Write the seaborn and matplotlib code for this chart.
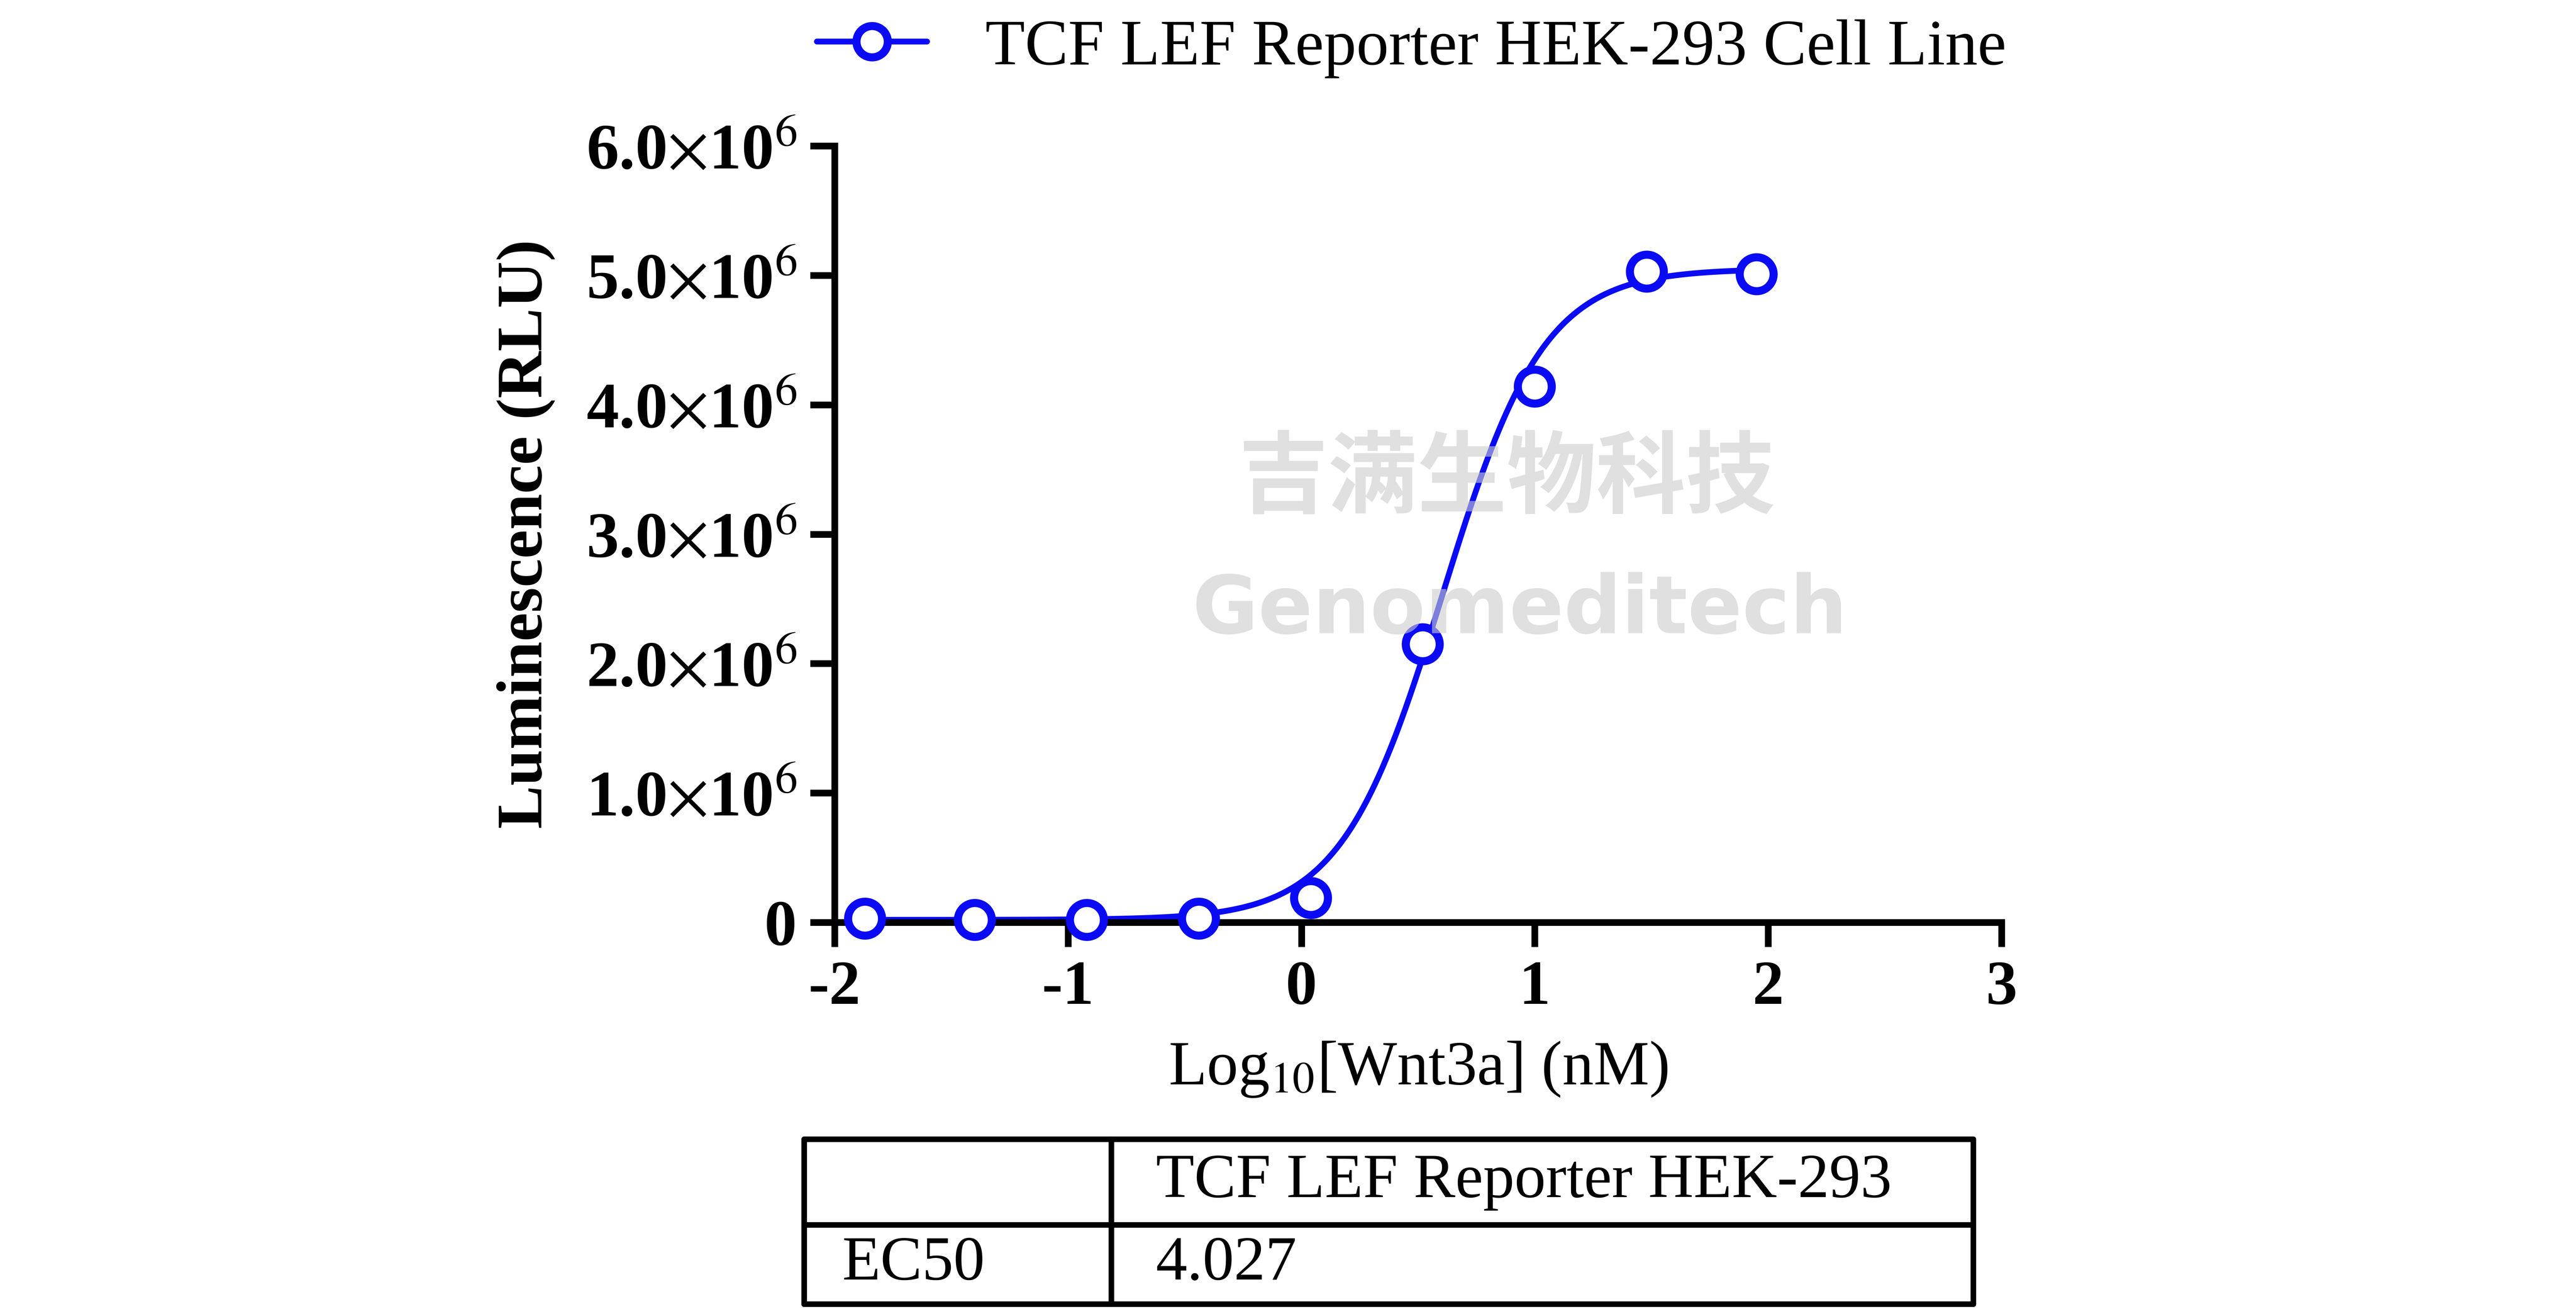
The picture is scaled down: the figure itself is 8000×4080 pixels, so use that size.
import numpy as np
import pandas as pd
import matplotlib
matplotlib.use("Agg")
import matplotlib.pyplot as plt
import seaborn as sns
from matplotlib.lines import Line2D

log_conc = [-1.87, -1.40, -0.92, -0.44, 0.04, 0.52, 1.00, 1.48, 1.95]
rlu = [0.03e6, 0.02e6, 0.02e6, 0.03e6, 0.19e6, 2.15e6, 4.14e6, 5.03e6, 5.01e6]
series_name = "TCF LEF Reporter HEK-293 Cell Line"
fit_bottom, fit_top, fit_logec50, fit_hill = 0.02e6, 5.05e6, 0.605, 2.0
ytick_vals = [0, 1e6, 2e6, 3e6, 4e6, 5e6, 6e6]
ytick_labels = ["0"] + [f"{v}.0$\\times$10$^{{6}}$" for v in range(1, 7)]
xtick_vals = [-2, -1, 0, 1, 2, 3]
table_header = ["", "TCF LEF Reporter HEK-293"]
table_row = ["EC50", "4.027"]

sns.set_theme(style="ticks")
plt.rcParams['font.family'] = ['Liberation Serif', 'DejaVu Serif']
plt.rcParams['mathtext.fontset'] = 'stix'
for k in ['text.color', 'axes.labelcolor', 'xtick.color', 'ytick.color']:
    plt.rcParams[k] = 'black'

fig = plt.figure(figsize=(16, 8.16), dpi=500)
ax = fig.add_axes([0.324, 0.298, 0.453, 0.591])

blue = "#0A0AF5"
xs = np.linspace(min(log_conc), max(log_conc), 400)
ys = fit_bottom + (fit_top - fit_bottom) / (1 + 10 ** ((fit_logec50 - xs) * fit_hill))
df_fit = pd.DataFrame({"x": xs, "y": ys})
df = pd.DataFrame({"x": log_conc, "y": rlu})
sns.lineplot(data=df_fit, x="x", y="y", ax=ax, color=blue, lw=2.6)
sns.scatterplot(data=df, x="x", y="y", ax=ax, s=230, facecolor="white",
                edgecolor=blue, linewidth=3.6, zorder=5, clip_on=False)

ax.set_xlim(-2, 3)
ax.set_ylim(0, 6e6)
ax.set_xticks(xtick_vals)
ax.set_xticklabels([str(v) for v in xtick_vals], fontsize=28, fontweight="bold")
ax.set_yticks(ytick_vals)
ax.set_yticklabels(ytick_labels, fontsize=29, fontweight="bold")
ax.tick_params(width=3, length=11, direction="out", pad=6, colors="black")
for s in ["top", "right"]:
    ax.spines[s].set_visible(False)
for s in ["left", "bottom"]:
    ax.spines[s].set_linewidth(3)
    ax.spines[s].set_color("black")
ax.set_xlabel("Log$_{10}$[Wnt3a] (nM)", fontsize=28, labelpad=10)
ax.set_ylabel("Luminescence (RLU)", fontsize=29, fontweight="bold", labelpad=14)

# watermark
fig.text(0.585, 0.635, "吉满生物科技", fontsize=40, color="#cccccc", alpha=0.6,
         family=["Noto Sans CJK SC"], ha="center", va="center", fontweight="bold")
fig.text(0.59, 0.535, "Genomeditech", fontsize=36, color="#cccccc", alpha=0.6,
         family=["DejaVu Sans"], ha="center", va="center", fontweight="bold")

# legend
h = Line2D([], [], color=blue, lw=2.6, marker="o", markersize=14,
           markerfacecolor="white", markeredgecolor=blue, markeredgewidth=3.6)
fig.legend([h], [series_name], loc="upper center", bbox_to_anchor=(0.548, 1.03),
           frameon=False, fontsize=29, handlelength=1.7, handletextpad=0.9)

# table
W, H = 1560, 796
def fx(p): return p / W
def fy(p): return 1 - p / H
x0, x1, xm = 487, 1195, 673
y0, y1, ym = 690, 790, 742
lw = 2.5
for (a, b, c, d) in [(x0, y0, x1, y0), (x0, y1, x1, y1), (x0, ym, x1, ym),
                     (x0, y0, x0, y1), (x1, y0, x1, y1), (xm, y0, xm, y1)]:
    fig.add_artist(Line2D([fx(a), fx(c)], [fy(b), fy(d)], color="black", lw=lw))
fig.text(fx(700), fy(716), table_header[1], fontsize=28, va="center")
fig.text(fx(510), fy(766), table_row[0], fontsize=28, va="center")
fig.text(fx(700), fy(766), table_row[1], fontsize=28, va="center")

fig.savefig("out.png", dpi=500)
